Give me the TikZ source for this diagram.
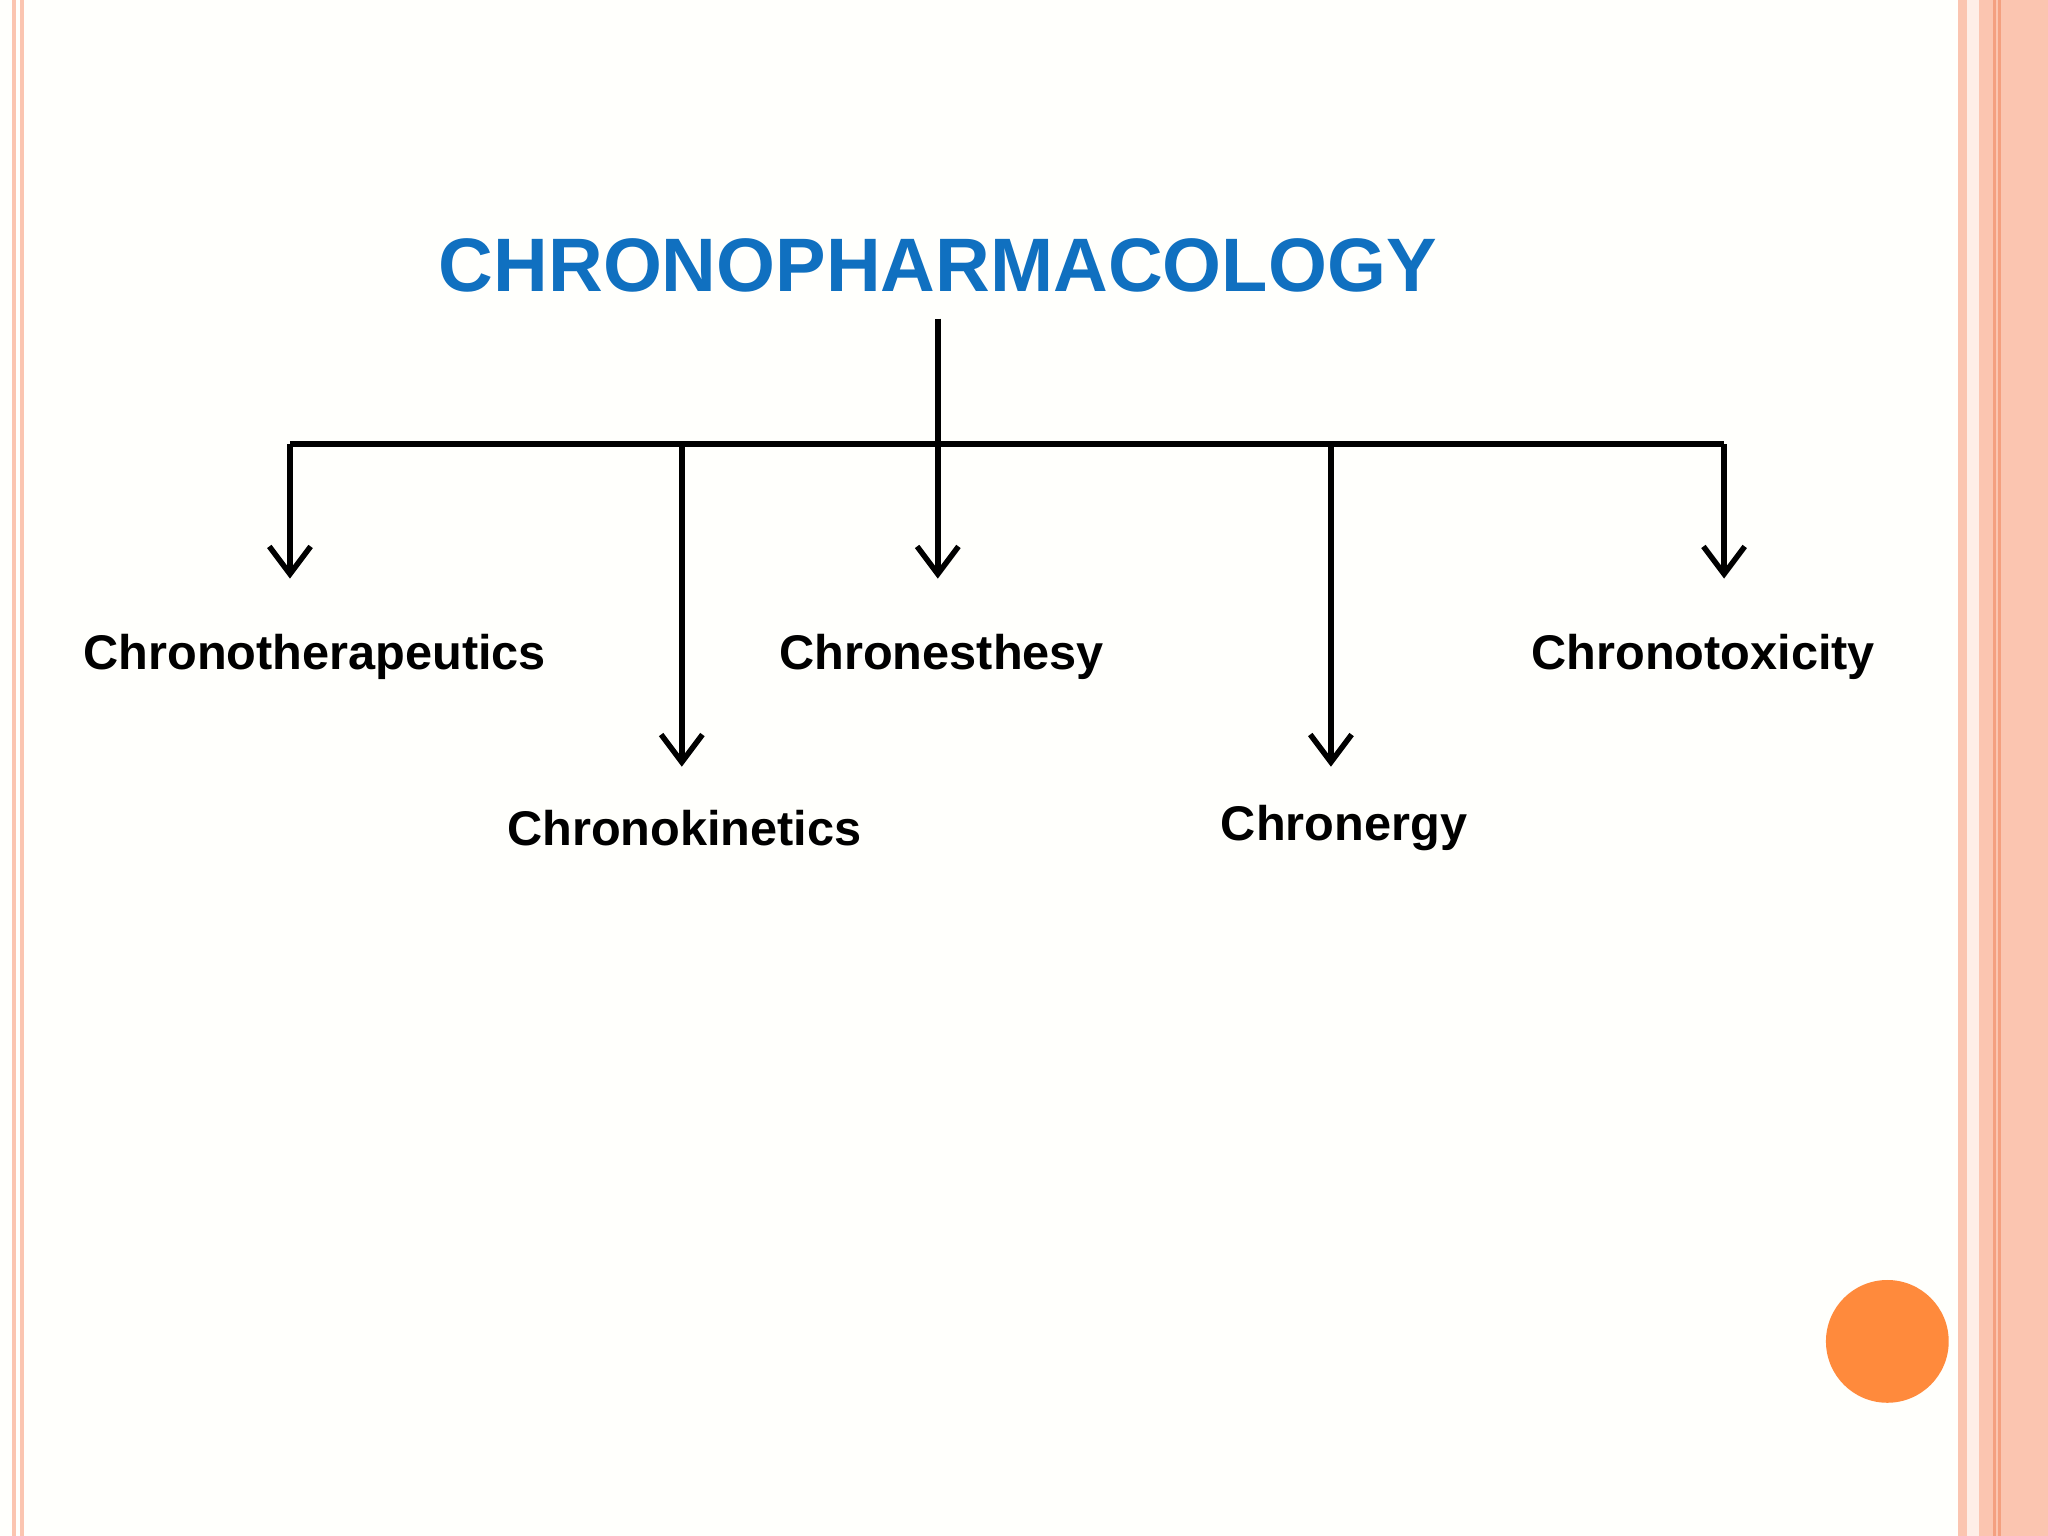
\documentclass[tikz,border=0pt]{standalone}
\usepackage{fontspec}
\setmainfont{Liberation Sans}
\usetikzlibrary{arrows.meta}
\definecolor{titleblue}{HTML}{1070C0}
\definecolor{stripe}{HTML}{FBC5B0}
\definecolor{stripedark}{HTML}{F4A080}
\definecolor{dotorange}{HTML}{FF8A3C}
\tikzset{
  lbl/.style={font=\bfseries\fontsize{10.6}{12}\selectfont, inner sep=0pt},
  conn/.style={line width=1.2pt, black},
  arr/.style={conn, -{Straight Barb[length=6pt,width=9pt,line width=1.2pt]}}
}
\begin{document}
\begin{tikzpicture}[x=0.01cm,y=-0.01cm]
\fill[white!97!yellow!40!white] (0,0) rectangle (1568,1176);
\useasboundingbox (0,0) rectangle (1568,1176);
% left border
\fill[stripe] (9,0) rectangle (12,1176);
\fill[stripe] (15,0) rectangle (18,1176);
% right border
\fill[stripe] (1499,0) rectangle (1506,1176);
\fill[stripe] (1515,0) rectangle (1568,1176);
\draw[stripedark, line width=0.6pt] (1527,0) -- (1527,1176);
\draw[stripedark, line width=0.6pt] (1531,0) -- (1531,1176);
\fill[white!70!stripe] (1506,0) rectangle (1515,1176);
% title
\node[font=\bfseries\fontsize{16.5}{19}\selectfont, text=titleblue, inner sep=0pt] (title) at (718,203) {CHRONOPHARMACOLOGY};
\coordinate (top) at (718,244);
\coordinate (mid) at (718,340);
\coordinate (hl) at (222,340);
\coordinate (hr) at (1320,340);
\coordinate (k) at (522,340);
\coordinate (e) at (1019,340);
\node[lbl] (a) at (241,503) {Chronotherapeutics};
\node[lbl] (b) at (524,634) {Chronokinetics};
\node[lbl] (c) at (721,503) {Chronesthesy};
\node[lbl] (d) at (1029,634) {Chronergy};
\node[lbl] (f) at (1304,503) {Chronotoxicity};
\draw[conn] (top) -- (mid);
\draw[conn] (hl) -- (hr);
\draw[arr] (hl) -- (222,443);
\draw[arr] (k) -- (522,587);
\draw[arr] (mid) -- (718,443);
\draw[arr] (e) -- (1019,587);
\draw[arr] (hr) -- (1320,443);
\fill[dotorange] (1445,1027) circle (47);
\end{tikzpicture}
\end{document}
